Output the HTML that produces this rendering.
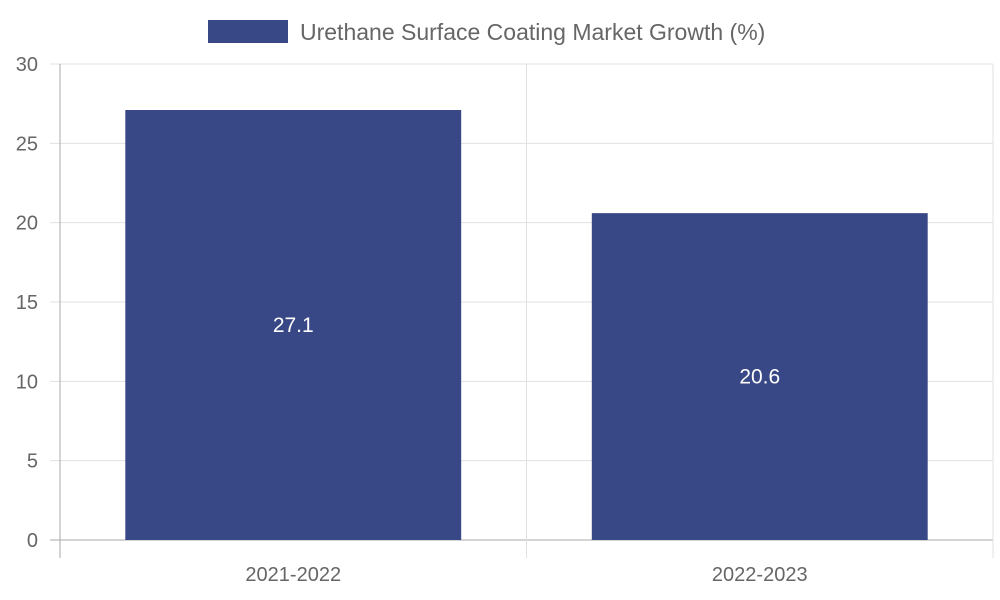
<!DOCTYPE html>
<html><head><meta charset="utf-8"><style>
body{margin:0;background:#fff;}
svg{display:block;font-family:"Liberation Sans",sans-serif;}
</style></head><body>
<svg id="chart" width="1000" height="600">
<g id="grid"></g>
<g id="bars"></g>
<g id="axes"></g>
<g>
<rect x="208" y="20" width="80" height="23" fill="#384785"/>
<text x="300" y="40" font-size="23" fill="#666">Urethane Surface Coating Market Growth (%)</text>
</g>
</svg>
<script>
const categories=["2021-2022","2022-2023"];
const values=[27.1,20.6];
const yTicks=[0,5,10,15,20,25,30];
const L=60,R=993,T=64,B=540,yMax=30;
const ns="http://www.w3.org/2000/svg";
const y=v=>B-(v/yMax)*(B-T);
const cw=(R-L)/categories.length;
const x=i=>L+cw*i;
function mk(tag,attrs,parent,txt){const e=document.createElementNS(ns,tag);for(const k in attrs)e.setAttribute(k,attrs[k]);if(txt!==undefined)e.textContent=txt;document.getElementById(parent).appendChild(e);return e;}
yTicks.forEach(t=>{
const g=mk("line",{x1:L-10,x2:R,y1:y(t),y2:y(t),stroke:t===0?"#aaa":"#e0e0e0","stroke-width":1},"grid");


const l=mk("text",{x:L-22,y:y(t)+7,"text-anchor":"end","font-size":20,fill:"#666"},"axes",t);


});
for(let i=0;i<=categories.length;i++){
const g=mk("line",{x1:x(i),x2:x(i),y1:T,y2:B+18,stroke:i===0?"#aaa":"#e0e0e0","stroke-width":1},"grid");


}
categories.forEach((c,i)=>{
const bw=cw*0.72,bx=x(i)+(cw-bw)/2;
const r=mk("rect",{x:bx,y:y(values[i]),width:bw,height:B-y(values[i]),fill:"#384785"},"bars");


const v=mk("text",{x:bx+bw/2,y:(y(values[i])+B)/2+7,"text-anchor":"middle","font-size":21,fill:"#fff"},"bars",values[i]);


const l=mk("text",{x:x(i)+cw/2,y:581,"text-anchor":"middle","font-size":20,fill:"#666"},"axes",c);


});
</script>
</body></html>
